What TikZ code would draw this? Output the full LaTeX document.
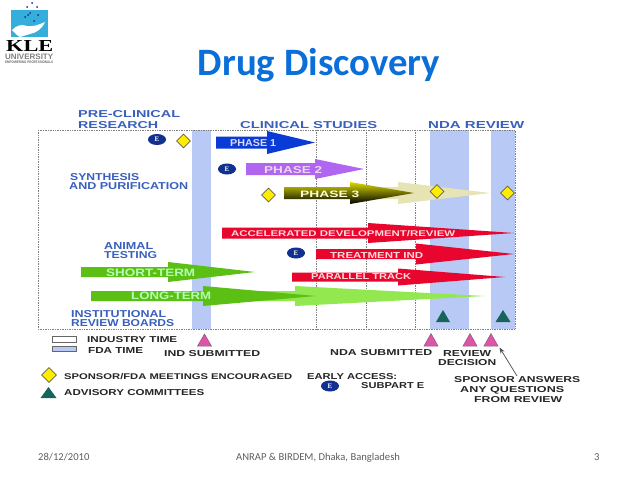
\documentclass[tikz,border=0pt]{standalone}
\usepackage{fontspec}
\usepackage{graphicx}
\setmainfont{Liberation Sans}
\newfontfamily\slidefont{Carlito}
\newfontfamily\logofont{Liberation Serif}
\usetikzlibrary{shapes.geometric,arrows.meta}
\definecolor{lblue}{HTML}{3A60BE}
\definecolor{fda}{HTML}{B9C9F5}
\definecolor{ttl}{HTML}{0A6FD8}
\definecolor{redar}{HTML}{E8062E}
\definecolor{grn}{HTML}{5CBF14}
\definecolor{lgrn}{HTML}{93E84F}
\definecolor{pale}{HTML}{E6E4B4}
\definecolor{teal2}{HTML}{17645C}
\definecolor{pink}{HTML}{DE55A8}
\definecolor{pdark}{HTML}{8A5A80}
\definecolor{ebl}{HTML}{12308F}
\definecolor{foot}{HTML}{5F5F5F}
\definecolor{logobl}{HTML}{35AEDB}
\definecolor{ph1c}{HTML}{0B3BD6}
\definecolor{ph2c}{HTML}{B066F0}
\newcommand{\fitlbl}[7][7]{% height, name, x0, x1, y, colour, text
  \node[anchor=west,inner sep=0pt,text=#6] (#2) at (#3,#5)
    {\resizebox{\dimexpr#4pt-#3pt\relax}{#1pt}{\bfseries #7}};}
\newcommand{\bigarrow}[7]{% x0, neck, tip, yc, half bar, half head, style
  \path[#7] (#1,#4-#5) -- (#2,#4-#5) -- (#2,#4-#6) -- (#3,#4) -- (#2,#4+#6) -- (#2,#4+#5) -- (#1,#4+#5) -- cycle;}
\newcommand{\tri}[5]{% cx, top, bottom, half, style
  \path[#5] (#1,#2) -- (#1+#4,#3) -- (#1-#4,#3) -- cycle;}
\tikzset{
  x=1pt,y=-1pt,
  fdabar/.style={fill=fda},
  grid/.style={densely dotted,line width=.7pt,draw=black!50},
  meet/.style={diamond,draw=black!70!yellow,line width=.7pt,fill=yellow!95!orange,minimum size=14pt,inner sep=0pt},
  earlyacc/.style={ellipse,fill=ebl,minimum width=18pt,minimum height=11pt,inner sep=0pt,text=white,font=\logofont\bfseries\fontsize{7}{7}\selectfont},
  adv/.style={fill=teal2},
  sub/.style={fill=pink,draw=pdark,line width=.5pt},
}
\begin{document}
\begin{tikzpicture}
\useasboundingbox (0,0) rectangle (638,479);
\fill[white] (0,0) rectangle (638,479);
% logo
\fill[logobl] (11,10) rectangle (48,37);
\fill[white] (12,30) .. controls (17,25) and (22,24) .. (27,26) .. controls (33,27) and (38,25) .. (45,22) .. controls (42,29) and (36,33) .. (30,34) -- (20,37) -- (17,35) -- cycle;
\foreach \p in {(30,13),(38,15),(25,17),(34,21),(28,15),(32,3),(27,7),(37,7)}
  \fill[ebl] \p circle (1pt);
\node[anchor=west,inner sep=0pt] (klename) at (6,45.5) {\resizebox{47pt}{11pt}{\logofont\bfseries KLE}};
\fitlbl[5.5]{kleuni}{5}{53}{56.5}{black!50}{UNIVERSITY}
\fitlbl[2.5]{kleemp}{5}{53}{62.5}{black!60}{EMPOWERING PROFESSIONALS}
% title
\node[inner sep=0pt,text=ttl] (title) at (319,65.5) {\resizebox{242pt}{!}{\slidefont\bfseries Drug Discovery}};
% FDA bars
\fill[fdabar] (192,130) rectangle (211,329);
\fill[fdabar] (430,130) rectangle (469,329);
\fill[fdabar] (491,130) rectangle (515,329);
% grid
\draw[grid] (38,130) rectangle (515,329);
\draw[grid] (316,130) -- (316,329);
\draw[grid] (366,130) -- (366,329);
\draw[grid] (415,130) -- (415,329);
% headings
\fitlbl{prec}{78}{180}{114}{lblue}{PRE-CLINICAL}
\fitlbl{res}{78}{158}{125}{lblue}{RESEARCH}
\fitlbl{clin}{240}{377}{125}{lblue}{CLINICAL STUDIES}
\fitlbl{nda}{428}{524}{125}{lblue}{NDA REVIEW}
\fitlbl{syn}{70}{139}{177}{lblue}{SYNTHESIS}
\fitlbl{pur}{69}{188}{186}{lblue}{AND PURIFICATION}
\fitlbl{ani}{104}{153}{246}{lblue}{ANIMAL}
\fitlbl{tes}{104}{157}{255}{lblue}{TESTING}
\fitlbl{inst}{71}{166}{314}{lblue}{INSTITUTIONAL}
\fitlbl{rev}{71}{174}{323.5}{lblue}{REVIEW BOARDS}
% arrows
\bigarrow{350}{398}{490}{193}{6}{11}{fill=pale}
\bigarrow{203}{295}{485}{296}{5}{10}{fill=lgrn}
\bigarrow{216}{267}{315}{142.5}{6}{11.5}{fill=ph1c}
\bigarrow{246}{315}{364}{169}{6}{10}{fill=ph2c}
\bigarrow{284}{350}{414}{193}{6}{11}{top color=yellow!85!black,middle color=olive!70!black,bottom color=black}
\bigarrow{222}{368}{514}{233}{5.5}{10}{fill=redar}
\bigarrow{316}{416}{514}{254}{5}{10.5}{fill=redar}
\bigarrow{292}{398}{505}{277}{4.5}{8.5}{fill=redar}
\bigarrow{81}{168}{255}{272}{5}{10}{fill=grn}
\bigarrow{91}{203}{316}{296}{5}{10}{fill=grn}
% arrow labels
\fitlbl{ph1}{230}{276}{143.5}{white!85!blue}{PHASE 1}
\fitlbl{ph2}{264}{322}{170.5}{white!85!violet}{PHASE 2}
\fitlbl[6.5]{ph3}{300}{359}{194}{white!85!yellow}{PHASE 3}
\fitlbl[6]{acc}{231}{455}{233.5}{white!85!red}{ACCELERATED DEVELOPMENT/REVIEW}
\fitlbl[6]{tre}{330}{423}{255}{white!85!red}{TREATMENT IND}
\fitlbl[6]{par}{311}{411}{277}{white!85!red}{PARALLEL TRACK}
\fitlbl[7.5]{sho}{106}{195}{272.5}{white!70!green}{SHORT-TERM}
\fitlbl[7.5]{lon}{131}{211}{296}{white!70!green}{LONG-TERM}
% meetings and E marks
\node[meet] (d1) at (183.5,141) {};
\node[meet] (d2) at (268.5,195) {};
\node[meet] (d3) at (437,191.5) {};
\node[meet] (d4) at (507.5,193) {};
\node[earlyacc] (e1) at (157,139.5) {E};
\node[earlyacc] (e2) at (227,169) {E};
\node[earlyacc] (e3) at (296,253) {E};
% triangles
\tri{443}{310}{322}{7}{adv}
\tri{503}{310}{322}{7.5}{adv}
\tri{204.5}{334}{346}{7}{sub}
\tri{431}{333.5}{346}{7}{sub}
\tri{470}{333.5}{346}{7}{sub}
\tri{491}{333.5}{346}{7}{sub}
% legend
\draw[black!60,line width=.7pt,fill=white] (52.5,336.5) rectangle (76.5,342);
\draw[black!60,line width=.7pt,fill=fda] (52.5,346) rectangle (76.5,351.5);
\fitlbl[6]{lind}{87}{177}{340}{black!85}{INDUSTRY TIME}
\fitlbl[6]{lfda}{88}{143}{350}{black!85}{FDA TIME}
\fitlbl[6]{lis}{164}{260}{354}{black!85}{IND SUBMITTED}
\fitlbl[6]{lns}{330}{432}{353}{black!85}{NDA SUBMITTED}
\fitlbl[6]{lrv}{443}{491}{353}{black!85}{REVIEW}
\fitlbl[6]{lde}{438}{496}{363}{black!85}{DECISION}
\node[meet,minimum size=15pt] (ldia) at (49,375) {};
\tri{48.5}{387}{398}{8}{adv}
\fitlbl[6]{lsp}{64}{292}{377}{black!85}{SPONSOR/FDA MEETINGS ENCOURAGED}
\fitlbl[6]{lad}{64}{204}{393}{black!85}{ADVISORY COMMITTEES}
\fitlbl[6]{lea}{307}{397}{377}{black!85}{EARLY ACCESS:}
\node[earlyacc] (e4) at (330,386) {E};
\fitlbl[6]{lsu}{361}{424}{386}{black!85}{SUBPART E}
\fitlbl[6]{la1}{454}{580}{380}{black!85}{SPONSOR ANSWERS}
\fitlbl[6]{la2}{460}{564}{390}{black!85}{ANY QUESTIONS}
\fitlbl[6]{la3}{474}{562}{399.5}{black!85}{FROM REVIEW}
\coordinate (atip) at (499.5,347.5);
\coordinate (atail) at (517,376);
\draw[-{Stealth[length=6pt,width=4.5pt]},line width=.7pt,black!70] (atail) -- (atip);
% footer
\node[anchor=west,inner sep=0pt,text=foot,font=\slidefont\fontsize{10.6}{12}\selectfont] (fd) at (38,457.5) {28/12/2010};
\node[anchor=west,inner sep=0pt,text=foot,font=\slidefont\fontsize{10.6}{12}\selectfont] (ft) at (236,457.5) {ANRAP \& BIRDEM, Dhaka, Bangladesh};
\node[anchor=west,inner sep=0pt,text=foot,font=\slidefont\fontsize{10.6}{12}\selectfont] (fp) at (594,457) {3};
\end{tikzpicture}
\end{document}
